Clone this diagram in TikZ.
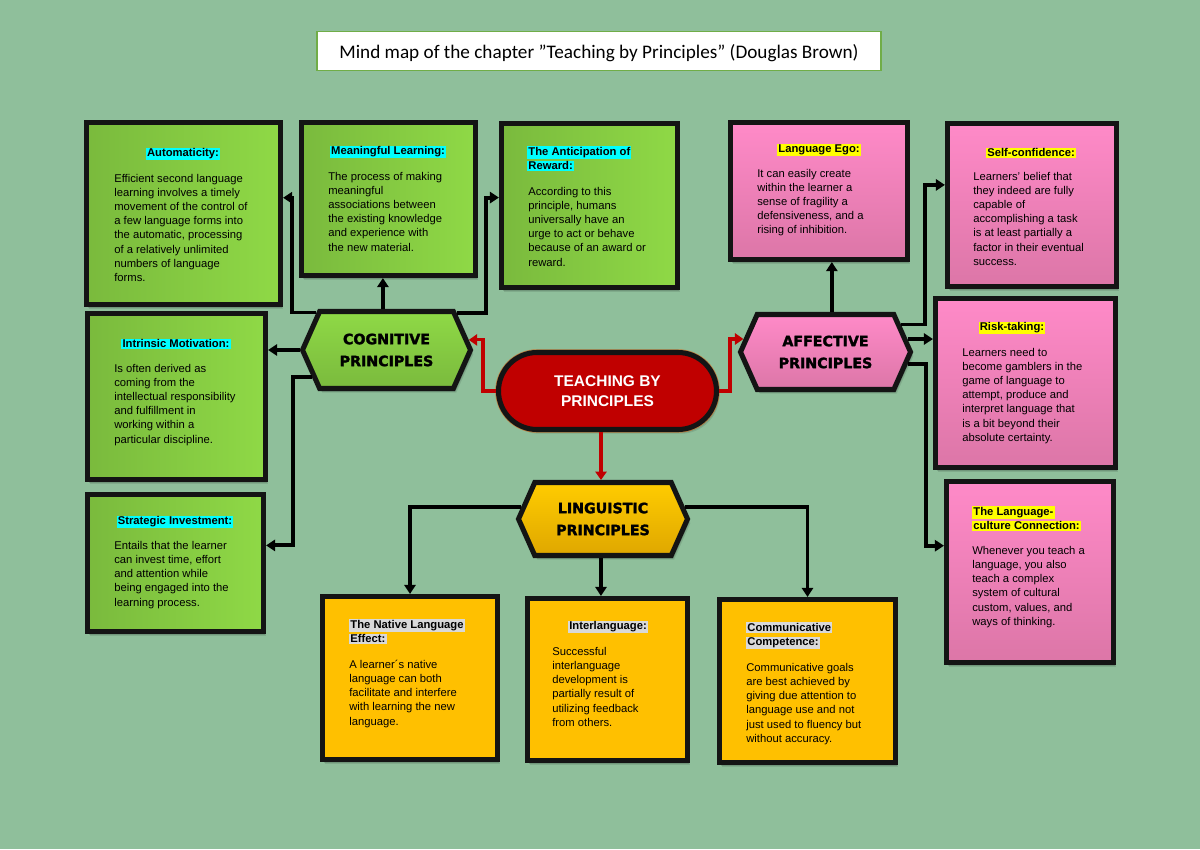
\documentclass[tikz,border=0pt]{standalone}
\usepackage{fontspec}
\setmainfont{Liberation Sans}
\newfontfamily\titlefont{Carlito}
\newfontfamily\hexfont[BoldFeatures={FakeBold=2}]{DejaVu Sans}
\usepackage{xcolor}
\usetikzlibrary{positioning,arrows.meta,shapes.geometric,shapes.misc,shapes.symbols,shadows}
\definecolor{pagebg}{HTML}{8FBF9B}
\definecolor{greenA}{HTML}{7ABA3D}
\definecolor{greenB}{HTML}{8FD946}
\definecolor{pinkA}{HTML}{FF8AC8}
\definecolor{pinkB}{HTML}{DC76A7}
\definecolor{goldA}{HTML}{FFCC00}
\definecolor{goldB}{HTML}{DFA700}
\definecolor{orangecard}{HTML}{FFC000}
\definecolor{redline}{HTML}{C00000}
\definecolor{titleline}{HTML}{70AD47}
\definecolor{headgray}{HTML}{D9D9D9}
\definecolor{headcyan}{HTML}{00FFFF}
\definecolor{headyellow}{HTML}{FFFF00}
\setlength{\fboxsep}{0.8pt}
\newcommand{\hlbox}[2]{\colorbox{#1}{#2}}
\tikzset{
    softshadow/.style={
        drop shadow={shadow xshift=2pt,shadow yshift=-3pt,opacity=.1,fill=black},
        drop shadow={shadow xshift=1.4pt,shadow yshift=-2.2pt,opacity=.12,fill=black},
        drop shadow={shadow xshift=.8pt,shadow yshift=-1.4pt,opacity=.14,fill=black}},
    boxsize/.style 2 args={minimum width=#1*0.025cm,minimum height=#2*0.025cm},
    card/.style={draw=black!92,line width=3.6pt,softshadow,inner sep=0pt},
    cardgreen/.style={card,left color=greenA,right color=greenB},
    cardpink/.style={card,top color=pinkA,bottom color=pinkB},
    cardorange/.style={card,fill=orangecard},
    hexbox/.style={shape=signal,signal to=east and west,signal pointer angle=132,draw=black!92,line width=3.6pt,softshadow,inner sep=0pt,align=center,font=\hexfont\bfseries\fontsize{10.1}{15.6}\selectfont},
    headtxt/.style={inner sep=0pt,align=left,yshift=-1.4pt,font=\bfseries\fontsize{8}{10.2}\selectfont},
    bodytxt/.style={anchor=north west,inner sep=0pt,align=left,yshift=-1.4pt,font=\fontsize{8}{10.06}\selectfont,execute at begin node=\strut},
    link/.style={draw=black,line width=2.8pt,-{Triangle[length=6.5pt,width=8pt]}},
    redlink/.style={draw=redline,line width=2.2pt,-{Triangle[length=6pt,width=8pt]}}
}
\begin{document}
\begin{tikzpicture}[x=0.025cm,y=-0.025cm]
    \fill[pagebg] (0,0) rectangle (1200,849);
    \useasboundingbox (0,0) rectangle (1200,849);
    \node[draw=titleline,line width=1.4pt,fill=white,boxsize={564}{39},text height=10pt,text depth=0pt,font=\titlefont\fontsize{13.65}{15}\selectfont] (maptitle) at (599,51) {Mind map of the chapter ”Teaching by Principles” (Douglas Brown)};

    \node[cardgreen,boxsize={194}{182}] (boxauto) at (183.5,213.5) {};
    \node[cardgreen,boxsize={174}{153}] (boxmean) at (388.5,199) {};
    \node[cardgreen,boxsize={176}{164}] (boxanti) at (589.5,205.5) {};
    \node[cardgreen,boxsize={178}{166}] (boxintr) at (176.5,396.5) {};
    \node[cardgreen,boxsize={176}{137}] (boxstra) at (175.5,563) {};
    \node[cardpink,boxsize={177}{137}] (boxego) at (819,191) {};
    \node[cardpink,boxsize={169}{163}] (boxself) at (1032,205) {};
    \node[cardpink,boxsize={180}{169}] (boxrisk) at (1025.5,383) {};
    \node[cardpink,boxsize={167}{181}] (boxcult) at (1030,572) {};
    \node[cardorange,boxsize={175}{163}] (boxnati) at (410,678) {};
    \node[cardorange,boxsize={160}{162}] (boxinte) at (607.5,679.5) {};
    \node[cardorange,boxsize={176}{163}] (boxcomm) at (807.5,681) {};

    \node[hexbox,top color=greenB,bottom color=greenA,boxsize={168}{77}] (hexcog) at (386.5,350) {COGNITIVE\\PRINCIPLES};
    \node[hexbox,top color=pinkA,bottom color=pinkB,boxsize={170}{75}] (hexaff) at (825.5,352) {AFFECTIVE\\PRINCIPLES};
    \node[hexbox,top color=goldA,bottom color=goldB,boxsize={169}{73}] (hexling) at (603,519) {LINGUISTIC\\PRINCIPLES};
    \node[shape=rounded rectangle,draw=black!92,line width=3.6pt,fill=redline,text=white,boxsize={218}{77},softshadow,align=center,inner sep=0pt,
        preaction={draw=orange!50!gray,line width=4.6pt},font=\bfseries\fontsize{11}{13.9}\selectfont] (hubnode) at (607.5,391) {TEACHING BY\\PRINCIPLES};

    \node[headtxt] (headauto) at (183,152) {\hlbox{headcyan}{Automaticity:}};
    \node[bodytxt] (txtauto) at (114,172) {Efficient second language\\learning involves a timely\\movement of the control of\\a few language forms into\\the automatic, processing\\of a relatively unlimited\\numbers of language\\forms.};
    \node[headtxt] (headmean) at (388,150) {\hlbox{headcyan}{Meaningful Learning:}};
    \node[bodytxt] (txtmean) at (328,170) {The process of making\\meaningful\\associations between\\the existing knowledge\\and experience with\\the new material.};
    \node[headtxt,anchor=north west] (headanti) at (527,144) {\hlbox{headcyan}{The Anticipation of}\\\hlbox{headcyan}{Reward:}};
    \node[bodytxt] (txtanti) at (528,185) {According to this\\principle, humans\\universally have an\\urge to act or behave\\because of an award or\\reward.};
    \node[headtxt] (headintr) at (176,342) {\hlbox{headcyan}{Intrinsic Motivation:}};
    \node[bodytxt] (txtintr) at (114,362) {Is often derived as\\coming from the\\intellectual responsibility\\and fulfillment in\\working within a\\particular discipline.};
    \node[headtxt] (headstra) at (175,520) {\hlbox{headcyan}{Strategic Investment:}};
    \node[bodytxt] (txtstra) at (114,539) {Entails that the learner\\can invest time, effort\\and attention while\\being engaged into the\\learning process.};

    \node[headtxt] (headego) at (819,148) {\hlbox{headyellow}{Language Ego:}};
    \node[bodytxt] (txtego) at (757,167) {It can easily create\\within the learner a\\sense of fragility a\\defensiveness, and a\\rising of inhibition.};
    \node[headtxt] (headself) at (1031,151) {\hlbox{headyellow}{Self-confidence:}};
    \node[bodytxt] (txtself) at (973,170) {Learners’ belief that\\they indeed are fully\\capable of\\accomplishing a task\\is at least partially a\\factor in their eventual\\success.};
    \node[headtxt] (headrisk) at (1012,326) {\hlbox{headyellow}{Risk-taking:}};
    \node[bodytxt] (txtrisk) at (962,346) {Learners need to\\become gamblers in the\\game of language to\\attempt, produce and\\interpret language that\\is a bit beyond their\\absolute certainty.};
    \node[headtxt,anchor=north west] (headcult) at (972,504) {\hlbox{headyellow}{The Language-}\\\hlbox{headyellow}{culture Connection:}};
    \node[bodytxt] (txtcult) at (972,544) {Whenever you teach a\\language, you also\\teach a complex\\system of cultural\\custom, values, and\\ways of thinking.};

    \node[headtxt,anchor=north west] (headnati) at (349,617) {\hlbox{headgray}{The Native Language}\\\hlbox{headgray}{Effect:}};
    \node[bodytxt] (txtnati) at (349,658) {A learner´s native\\language can both\\facilitate and interfere\\with learning the new\\language.};
    \node[headtxt] (headinte) at (608,625) {\hlbox{headgray}{Interlanguage:}};
    \node[bodytxt] (txtinte) at (552,645) {Successful\\interlanguage\\development is\\partially result of\\utilizing feedback\\from others.};
    \node[headtxt,anchor=north west] (headcomm) at (746,620) {\hlbox{headgray}{Communicative}\\\hlbox{headgray}{Competence:}};
    \node[bodytxt] (txtcomm) at (746,661) {Communicative goals\\are best achieved by\\giving due attention to\\language use and not\\just used to fluency but\\without accuracy.};

    \draw[link] (hexcog.152) -- ++(-24,0) |- (boxauto.9);
    \draw[link] (hexcog.95) -- (hexcog.95 |- boxmean.south);
    \draw[link] (hexcog.28) -- ++(29,0) |- (boxanti.175);
    \draw[link] (hexcog.west) -- (hexcog.west -| boxintr.east);
    \draw[link] (hexcog.200) -- ++(-19,0) |- (boxstra.11);

    \draw[link] (hexaff.81) -- (hexaff.81 |- boxego.south);
    \draw[link] (hexaff.20) -- ++(24,0) |- (boxself.167);
    \draw[link] (hexaff.9) -- (hexaff.9 -| boxrisk.west);
    \draw[link] (hexaff.-8) -- ++(18,0) |- (boxcult.163);

    \draw[link] (hexling.172) -| (boxnati.north);
    \draw[link] (hexling.267) -- (hexling.267 |- boxinte.north);
    \draw[link] (hexling.8) -| (boxcomm.north);

    \draw[redlink] (hubnode.west) -- ++(-13,0) |- (hexcog.7);
    \draw[redlink] (hubnode.east) -- ++(11,0) |- (hexaff.171);
    \draw[redlink] (hubnode.261) -- (hubnode.261 |- hexling.north);
\end{tikzpicture}
\end{document}
